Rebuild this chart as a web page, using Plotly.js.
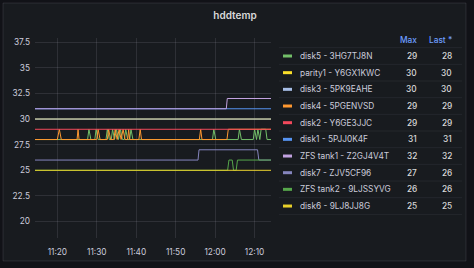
<!DOCTYPE html>
<html>
<head>
<meta charset="utf-8">
<script src="https://cdn.plot.ly/plotly-3.0.1.min.js"></script>
<style>
  html, body { margin: 0; padding: 0; background: #111217; }
  #chart { width: 474px; height: 268px; }
</style>
</head>
<body>
<div id="chart"></div>
<script>
// ---- data ----
const DAY = '2024-01-01 ';
const seriesNames = ['disk5 - 3HG7TJ8N', 'parity1 - Y6GX1KWC', 'disk3 - 5PK9EAHE', 'disk4 - 5PGENVSD',
  'disk2 - Y6GE3JJC', 'disk1 - 5PJJ0K4F', 'ZFS tank1 - Z2GJ4V4T', 'disk7 - ZJV5CF96',
  'ZFS tank2 - 9LJSSYVG', 'disk6 - 9LJ8JJ8G'];
const legendHeaders = ['Max', 'Last *'];

const disk5_t = ['11:14:20','11:27:40','11:28:00','11:28:30','11:29:30','11:29:50','11:30:20','11:32:20','11:32:40','11:33:10',
  '11:33:40','11:34:00','11:34:30','11:35:00','11:35:30','11:36:00','11:36:30','11:37:00','11:37:20','11:37:50',
  '11:38:20','11:38:40','11:39:10','11:59:20','11:59:40','12:00:10','12:05:50','12:06:10','12:06:40','12:09:40',
  '12:10:00','12:10:30','12:10:50','12:11:20','12:11:40','12:12:50','12:13:10','12:14:10'];
const disk5_v = [28,28,29,28,28,29,28,28,29,28,
  28,29,28,29,28,29,28,28,29,28,
  28,29,28,28,29,28,28,29,28,28,
  29,28,29,28,29,29,28,28];

const parity1_t = ['11:14:20','12:14:10'];
const parity1_v = [30,30];

const disk3_t = ['11:14:20','12:14:10'];
const disk3_v = [30,30];

const disk4_t = ['11:14:20','11:20:00','11:20:30','11:21:00','11:25:00','11:25:15','11:25:30','11:30:00','11:30:20','11:30:50',
  '11:32:40','11:33:00','11:33:30','11:34:20','11:34:40','11:35:10','11:35:40','11:36:10','11:36:40','11:37:10',
  '11:37:50','11:38:05','11:38:20','11:40:40','11:41:00','11:41:20','11:56:00','11:56:20','11:56:40','12:03:00',
  '12:03:20','12:14:10'];
const disk4_v = [28,28,29,28,28,29,28,28,29,28,
  28,29,28,28,29,28,29,28,29,28,
  28,29,28,28,29,28,28,29,28,28,
  29,29];

const disk2_t = ['11:14:20','12:14:10'];
const disk2_v = [29,29];

const disk1_t = ['11:14:20','12:14:10'];
const disk1_v = [31,31];

const tank1_t = ['11:14:20','12:02:50','12:03:05','12:14:10'];
const tank1_v = [31,31,32,32];

const disk7_t = ['11:14:20','11:55:40','11:55:55','12:10:45','12:11:05','12:14:10'];
const disk7_v = [26,26,27,27,26,26];

const tank2_t = ['11:14:20','12:03:10','12:03:30','12:04:20','12:04:40','12:05:20','12:05:40','12:14:10'];
const tank2_v = [25,25,26,26,25,25,26,26];

const disk6_t = ['11:14:20','12:14:10'];
const disk6_v = [25,25];

const seriesTimes = [disk5_t, parity1_t, disk3_t, disk4_t, disk2_t, disk1_t, tank1_t, disk7_t, tank2_t, disk6_t];
const seriesValues = [disk5_v, parity1_v, disk3_v, disk4_v, disk2_v, disk1_v, tank1_v, disk7_v, tank2_v, disk6_v];

// ---- styles ----
const colors = ['#73BF69', '#FADE2A', '#A7BEE6', '#FF9830', '#F2495C', '#5794F2', '#C2A2E0', '#8585BD', '#56A64B', '#E8D02A'];
const FONT = 'Inter, "Open Sans", sans-serif';
const TXT = '#ccccdc';

// plot area in pixels (used to place the table-legend in paper coords)
const W = 474, H = 268, PL = 35, PR = 271, PT = 38, PB = 238;
const xp = px => (px - PL) / (PR - PL);
const yp = py => (PB - py) / (PB - PT);

const traces = seriesNames.map((name, i) => ({
  type: 'scatter', mode: 'lines', name: name,
  x: seriesTimes[i].map(s => DAY + s),
  y: seriesValues[i],
  line: { color: colors[i], width: 1 },
  hoverinfo: 'skip', showlegend: false
}));

const shapes = [{
  type: 'rect', xref: 'paper', yref: 'paper', layer: 'below',
  x0: xp(3), x1: xp(466), y0: yp(261), y1: yp(3),
  fillcolor: '#181b1f', line: { color: 'rgba(204,204,220,0.12)', width: 1 }
}];
const annotations = [];

const ROW0 = 56, ROWH = 16.67, COL_MAX = 419, COL_LAST = 454, NAME_X = 298;
legendHeaders.forEach((h, j) => annotations.push({
  xref: 'paper', yref: 'paper', x: xp(j === 0 ? COL_MAX : COL_LAST), y: yp(40),
  xanchor: 'right', yanchor: 'middle', showarrow: false, text: h,
  font: { family: FONT, size: 8.3, color: '#6E9FFF', weight: 500 }
}));
for (let r = 0; r <= seriesNames.length; r++) {
  const y = ROW0 - ROWH / 2 + r * ROWH;
  shapes.push({ type: 'line', xref: 'paper', yref: 'paper', layer: 'below',
    x0: xp(279), x1: xp(462), y0: yp(y), y1: yp(y),
    line: { color: 'rgba(204,204,220,0.07)', width: 1 } });
}
seriesNames.forEach((name, i) => {
  const y = ROW0 + i * ROWH;
  const vals = seriesValues[i];
  const maxV = Math.max(...vals), lastV = vals[vals.length - 1];
  shapes.push({ type: 'line', xref: 'paper', yref: 'paper',
    x0: xp(283), x1: xp(292), y0: yp(y), y1: yp(y),
    line: { color: colors[i], width: 3 } });
  annotations.push({ xref: 'paper', yref: 'paper', x: xp(NAME_X), y: yp(y),
    xanchor: 'left', yanchor: 'middle', showarrow: false, text: name,
    font: { family: FONT, size: 8.3, color: TXT } });
  annotations.push({ xref: 'paper', yref: 'paper', x: xp(COL_MAX), y: yp(y),
    xanchor: 'right', yanchor: 'middle', showarrow: false, text: String(maxV),
    font: { family: FONT, size: 8.3, color: '#d8d9da', weight: 500 } });
  annotations.push({ xref: 'paper', yref: 'paper', x: xp(COL_LAST), y: yp(y),
    xanchor: 'right', yanchor: 'middle', showarrow: false, text: String(lastV),
    font: { family: FONT, size: 8.3, color: '#d8d9da', weight: 500 } });
});

const layout = {
  width: W, height: H,
  margin: { l: PL, r: W - PR, t: PT, b: H - PB, pad: 0 },
  paper_bgcolor: '#111217',
  plot_bgcolor: 'rgba(0,0,0,0)',
  font: { family: FONT, size: 8, color: TXT },
  title: {
    text: 'hddtemp', xref: 'container', yref: 'container',
    x: 235 / W, y: 1 - 15.5 / H, xanchor: 'center', yanchor: 'middle',
    font: { family: FONT, size: 10, color: '#d8d9da', weight: 600 }
  },
  xaxis: {
    type: 'date',
    range: [DAY + '11:14:20', DAY + '12:14:10'],
    tick0: DAY + '11:20:00', dtick: 600000, tickformat: '%H:%M',
    showgrid: true, gridcolor: 'rgba(204,204,220,0.12)', gridwidth: 1,
    zeroline: false, showline: false, ticks: '', ticklabelstandoff: 8,
    tickfont: { family: FONT, size: 8.3, color: TXT }
  },
  yaxis: {
    range: [18.4, 37.9], dtick: 2.5, tick0: 20,
    showgrid: true, gridcolor: 'rgba(204,204,220,0.12)', gridwidth: 1,
    zeroline: false, showline: false, ticks: '', ticklabelstandoff: 4,
    tickfont: { family: FONT, size: 8.3, color: TXT }
  },
  shapes: shapes,
  annotations: annotations,
  showlegend: false
};

Plotly.newPlot('chart', traces, layout, { displayModeBar: false, staticPlot: true });
</script>
</body>
</html>
